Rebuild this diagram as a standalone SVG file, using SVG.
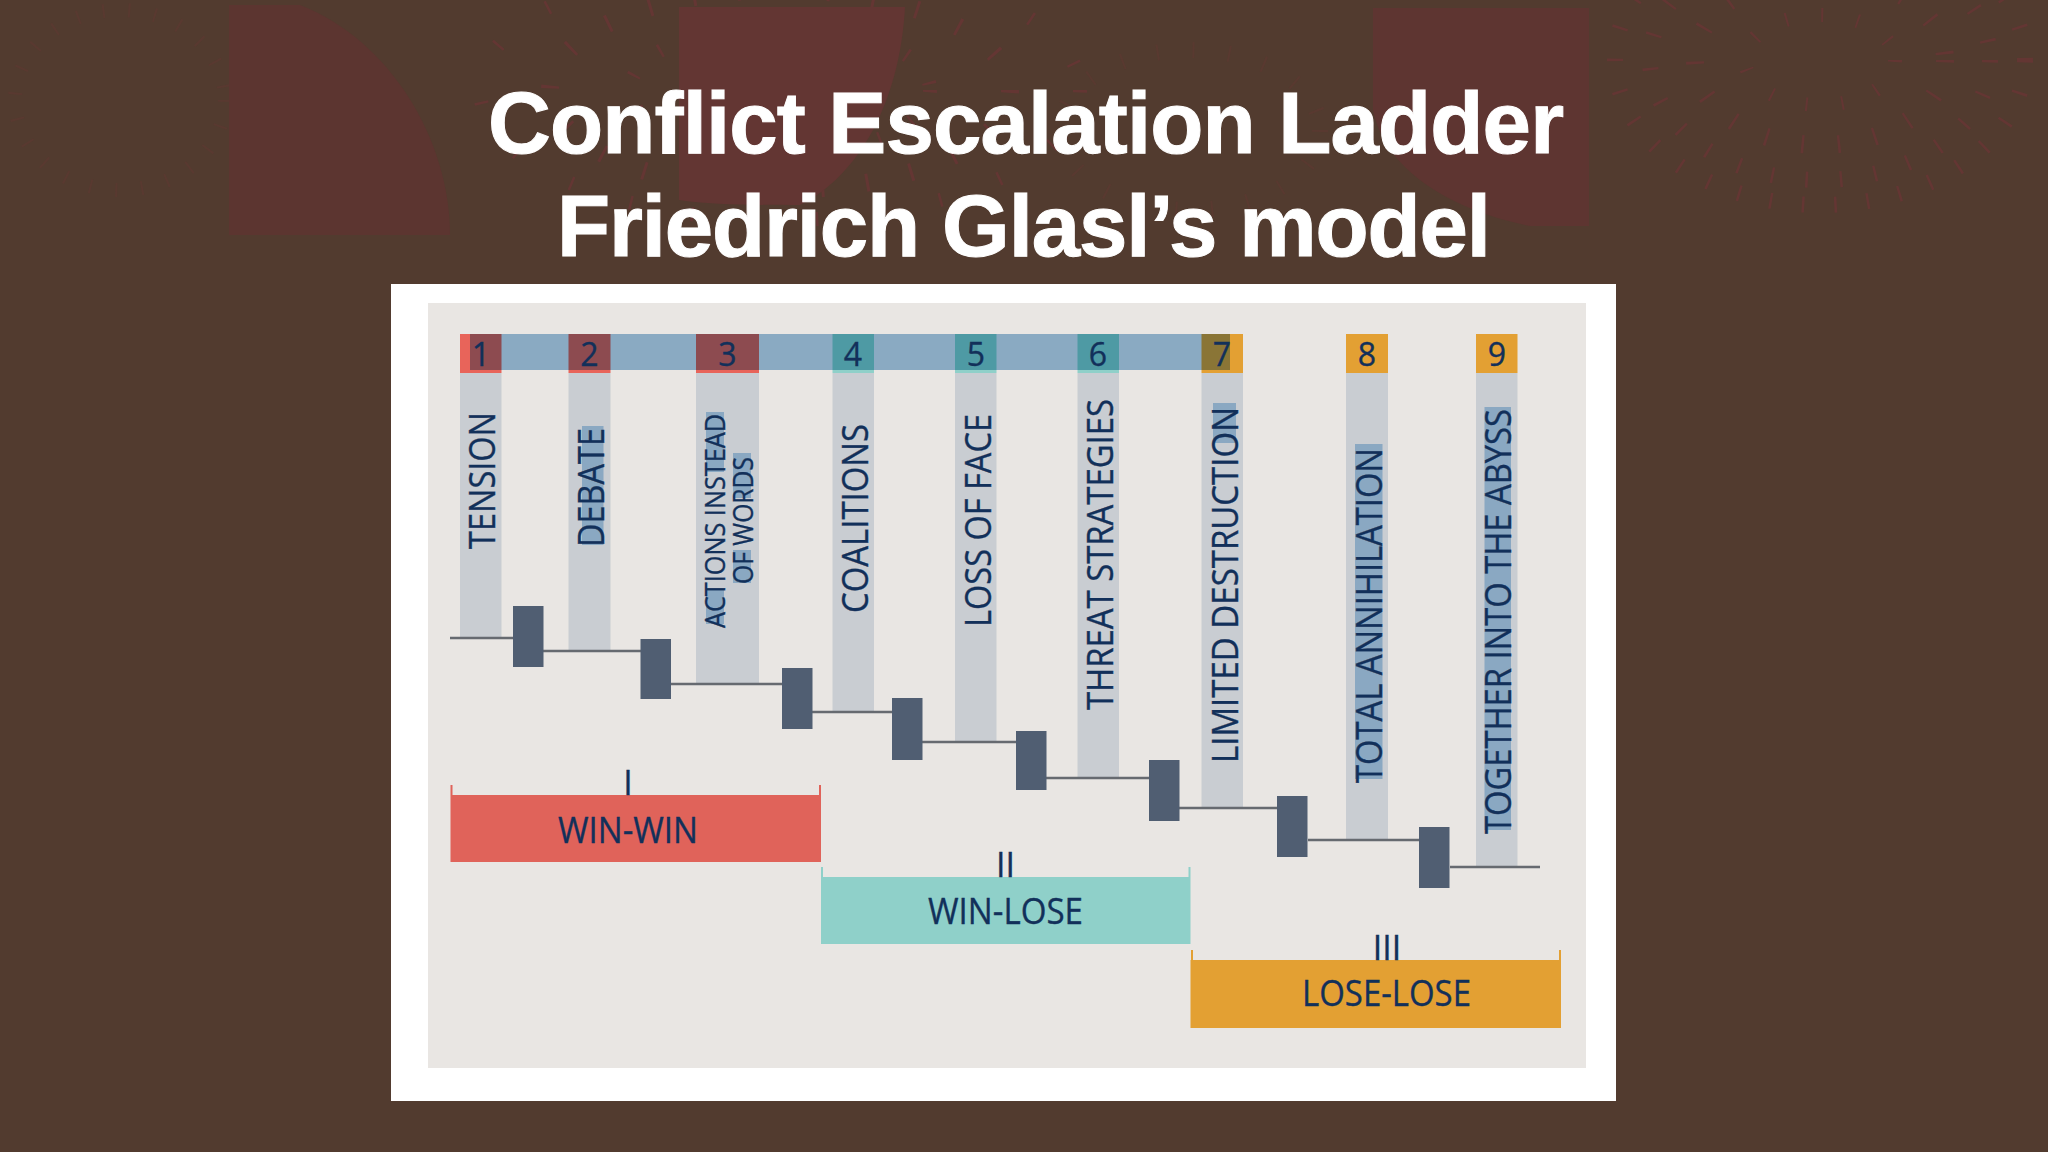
<svg xmlns="http://www.w3.org/2000/svg" width="2048" height="1152" viewBox="0 0 2048 1152">
<defs><style>
.title{font-family:"Liberation Sans",Arial,sans-serif;font-weight:700;font-size:87px;fill:#fff;stroke:#fff;stroke-width:1}
.t{font-family:"Open Sans","Noto Sans",sans-serif;fill:#12305a;stroke:#12305a;stroke-width:.35}
.v{font-size:36px}.s{font-size:28px}
.n{font-size:32px;text-anchor:middle}
.b{font-size:36px}
.r{font-size:34px;text-anchor:middle}
.col{fill:#c9cdd2}.hl{fill:#8aa8c2}
.step{fill:#505e72}
.c{stroke:#666a70;stroke-width:2.5;fill:none}
.spark{fill:none;stroke:#7a303a}
.tick{stroke-width:2;fill:none}
</style></defs>
<rect width="2048" height="1152" fill="#523b2f"/>
<g id="background">
<g class="spark" opacity=".18">
<ellipse cx="120" cy="100" rx="105" ry="90" stroke-width="14" stroke-dasharray="2 24"/>
<ellipse cx="1190" cy="130" rx="130" ry="80" stroke-width="16" stroke-dasharray="2 34"/>
</g>
<g class="spark" opacity=".45">
<ellipse cx="780" cy="90" rx="150" ry="65" stroke-width="14" stroke-dasharray="2.5 34"/>
<ellipse cx="780" cy="90" rx="230" ry="100" stroke-width="18" stroke-dasharray="3 42"/>
<ellipse cx="780" cy="90" rx="300" ry="130" stroke-width="14" stroke-dasharray="2.5 60"/>
<ellipse cx="1820" cy="60" rx="75" ry="45" stroke-width="14" stroke-dasharray="2 34"/>
<ellipse cx="1820" cy="60" rx="125" ry="85" stroke-width="18" stroke-dasharray="2.5 34"/>
<ellipse cx="1820" cy="60" rx="170" ry="120" stroke-width="16" stroke-dasharray="2.5 32"/>
<ellipse cx="1820" cy="60" rx="205" ry="145" stroke-width="16" stroke-dasharray="2.5 30"/>
</g>
<path d="M229 5H300C390 40 450 140 450 235H229Z" fill="#5c3530"/>
<path d="M679 7H905C900 100 860 175 800 205C760 205 710 205 679 200Z" fill="#633633"/>
<path d="M1373 8H1589V226H1530C1450 210 1385 170 1373 110Z" fill="#5e3531"/>
</g>
<g id="title">
<text class="title" x="488" y="153" textLength="1076" lengthAdjust="spacing">Conflict Escalation Ladder</text>
<text class="title" x="557" y="256" textLength="934" lengthAdjust="spacing">Friedrich Glasl’s model</text>
</g>
<rect id="panel" x="391" y="284" width="1225" height="817" fill="#fff"/>
<rect id="panel-inner" x="428" y="303" width="1158" height="765" fill="#e9e6e3"/>
<g id="column-1"><rect class="col" x="460" y="373" width="41.500" height="265"/><rect x="460" y="334" width="41.500" height="39" fill="#e8645a"/></g>
<g id="column-2"><rect class="col" x="568.500" y="373" width="42" height="277"/><rect x="568.500" y="334" width="42" height="39" fill="#e8645a"/></g>
<g id="column-3"><rect class="col" x="696" y="373" width="63" height="310"/><rect x="696" y="334" width="63" height="39" fill="#e8645a"/></g>
<g id="column-4"><rect class="col" x="832.500" y="373" width="41.500" height="339"/><rect x="832.500" y="334" width="41.500" height="39" fill="#8fd0c9"/></g>
<g id="column-5"><rect class="col" x="955" y="373" width="41.500" height="369"/><rect x="955" y="334" width="41.500" height="39" fill="#8fd0c9"/></g>
<g id="column-6"><rect class="col" x="1077.500" y="373" width="41.500" height="405"/><rect x="1077.500" y="334" width="41.500" height="39" fill="#8fd0c9"/></g>
<g id="column-7"><rect class="col" x="1201.500" y="373" width="41.500" height="435"/><rect x="1201.500" y="334" width="41.500" height="39" fill="#e3a033"/></g>
<g id="column-8"><rect class="col" x="1346" y="373" width="42" height="467"/><rect x="1346" y="334" width="42" height="39" fill="#e3a033"/></g>
<g id="column-9"><rect class="col" x="1476" y="373" width="41.500" height="494"/><rect x="1476" y="334" width="41.500" height="39" fill="#e3a033"/></g>
<g id="bar">
<rect x="470" y="334" width="760" height="36" fill="#8aaac2"/>
<rect x="470" y="334" width="31.500" height="36" fill="#8d4b50"/>
<rect x="568.500" y="334" width="42" height="36" fill="#8d4b50"/>
<rect x="696" y="334" width="63" height="36" fill="#8d4b50"/>
<rect x="832.500" y="334" width="41.500" height="36" fill="#4e9aa4"/>
<rect x="955" y="334" width="41.500" height="36" fill="#4e9aa4"/>
<rect x="1077.500" y="334" width="41.500" height="36" fill="#4e9aa4"/>
<rect x="1201.500" y="334" width="28.500" height="36" fill="#8a7536"/>
</g>
<g id="highlights">
<rect class="hl" x="582" y="426" width="21.500" height="119"/>
<rect class="hl" x="706" y="412" width="18" height="60"/>
<rect class="hl" x="706" y="590" width="18" height="34"/>
<rect class="hl" x="733" y="453" width="18" height="45"/>
<rect class="hl" x="733" y="550" width="18" height="33"/>
<rect class="hl" x="1213" y="403" width="23" height="40"/>
<rect class="hl" x="1355" y="444" width="27.500" height="335"/>
<rect class="hl" x="1484.500" y="407" width="26.500" height="423"/>
</g>
<g id="labels">
<text class="t n" x="481" y="366">1</text>
<text class="t n" x="589.500" y="366">2</text>
<text class="t n" x="727.500" y="366">3</text>
<text class="t n" x="853" y="366">4</text>
<text class="t n" x="976" y="366">5</text>
<text class="t n" x="1098" y="366">6</text>
<text class="t n" x="1222" y="366">7</text>
<text class="t n" x="1367" y="366">8</text>
<text class="t n" x="1497" y="366">9</text>
<text class="t v" transform="translate(495 549) rotate(-90)" textLength="137" lengthAdjust="spacingAndGlyphs">TENSION</text>
<text class="t v" transform="translate(604 547) rotate(-90)" textLength="119" lengthAdjust="spacingAndGlyphs">DEBATE</text>
<text class="t s" transform="translate(725 628) rotate(-90)" textLength="214" lengthAdjust="spacingAndGlyphs">ACTIONS INSTEAD</text>
<text class="t s" transform="translate(752.500 584) rotate(-90)" textLength="127" lengthAdjust="spacingAndGlyphs">OF WORDS</text>
<text class="t v" transform="translate(867.500 613) rotate(-90)" textLength="189" lengthAdjust="spacingAndGlyphs">COALITIONS</text>
<text class="t v" transform="translate(991 627) rotate(-90)" textLength="213" lengthAdjust="spacingAndGlyphs">LOSS OF FACE</text>
<text class="t v" transform="translate(1112.500 710) rotate(-90)" textLength="311" lengthAdjust="spacingAndGlyphs">THREAT STRATEGIES</text>
<text class="t v" transform="translate(1238 763) rotate(-90)" textLength="356" lengthAdjust="spacingAndGlyphs">LIMITED DESTRUCTION</text>
<text class="t v" transform="translate(1382 783) rotate(-90)" textLength="335" lengthAdjust="spacingAndGlyphs">TOTAL ANNIHILATION</text>
<text class="t v" transform="translate(1511 834) rotate(-90)" textLength="425" lengthAdjust="spacingAndGlyphs">TOGETHER INTO THE ABYSS</text>
</g>
<g id="connectors">
<path class="c" d="M450 638H513"/>
<path class="c" d="M543 651H641"/>
<path class="c" d="M671 684H782"/>
<path class="c" d="M812 712H892"/>
<path class="c" d="M922 742H1016"/>
<path class="c" d="M1046 778H1149"/>
<path class="c" d="M1179 808H1277"/>
<path class="c" d="M1308 840H1419"/>
<path class="c" d="M1450 867H1540"/>
</g>
<g id="steps">
<rect id="step-1" class="step" x="513" y="606" width="30.500" height="61"/>
<rect id="step-2" class="step" x="640.500" y="639" width="30.500" height="60"/>
<rect id="step-3" class="step" x="782" y="668" width="30.500" height="61"/>
<rect id="step-4" class="step" x="892" y="698" width="30.500" height="62"/>
<rect id="step-5" class="step" x="1016" y="731" width="30.500" height="59"/>
<rect id="step-6" class="step" x="1149" y="760" width="30.500" height="61"/>
<rect id="step-7" class="step" x="1277" y="796" width="30.500" height="61"/>
<rect id="step-8" class="step" x="1419" y="827" width="30.500" height="61"/>
</g>
<g id="win-win">
<path class="tick" stroke="#e0635a" d="M451.500 785V795M820 785V795"/>
<rect x="450.500" y="795" width="370.500" height="67" fill="#e0635a"/>
<text class="t r" x="628" y="795">I</text>
<text class="t b" x="558" y="843" textLength="140" lengthAdjust="spacingAndGlyphs">WIN-WIN</text>
</g>
<g id="win-lose">
<path class="tick" stroke="#8fd0c9" d="M822 867V877M1189.500 867V877"/>
<rect x="821" y="877" width="369.500" height="67" fill="#8fd0c9"/>
<text class="t r" x="1005.500" y="877">II</text>
<text class="t b" x="928" y="924" textLength="155" lengthAdjust="spacingAndGlyphs">WIN-LOSE</text>
</g>
<g id="lose-lose">
<path class="tick" stroke="#e3a033" d="M1192 950V960M1560 950V960"/>
<rect x="1190.500" y="960" width="370.500" height="68" fill="#e3a033"/>
<text class="t r" x="1387" y="960">III</text>
<text class="t b" x="1302" y="1006" textLength="169" lengthAdjust="spacingAndGlyphs">LOSE-LOSE</text>
</g>
</svg>
